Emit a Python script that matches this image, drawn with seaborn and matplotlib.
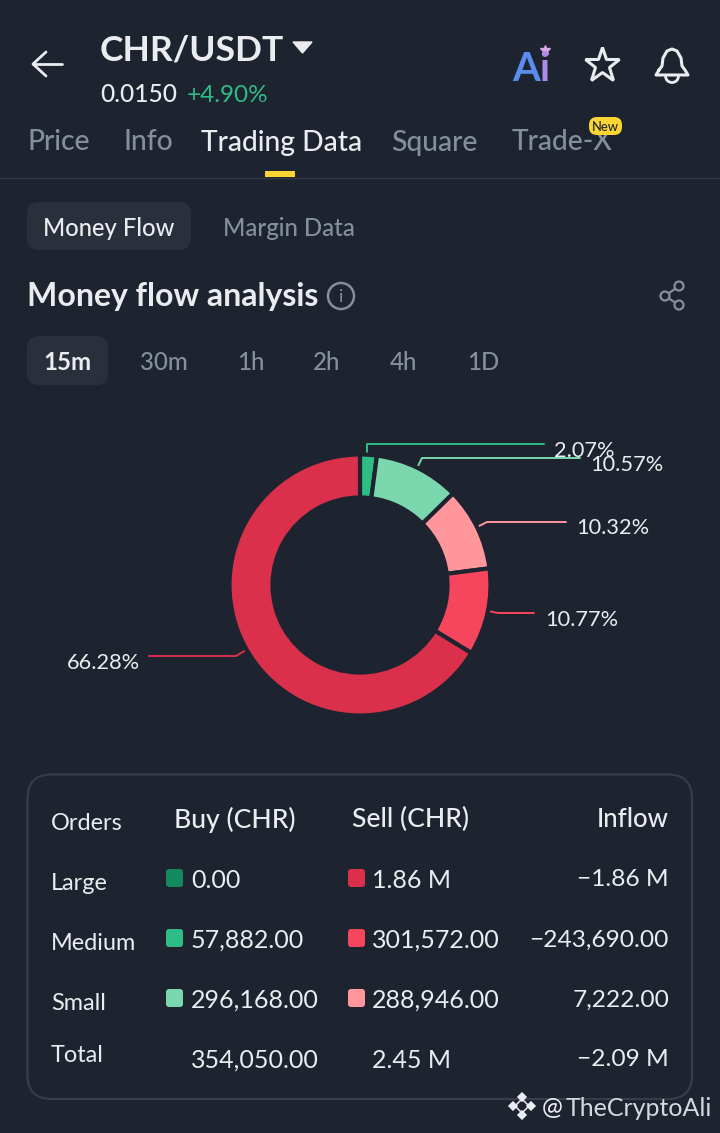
import matplotlib
matplotlib.use("Agg")
import matplotlib.pyplot as plt
from matplotlib.patches import FancyBboxPatch, Circle, Polygon, Arc
import numpy as np
import seaborn as sns

# donut values, clockwise from the top
slice_names = ["Medium buy", "Small buy", "Small sell", "Medium sell", "Large sell"]
slice_pct = [2.07, 10.57, 10.32, 10.77, 66.28]
slice_labels = ["2.07%", "10.57%", "10.32%", "10.77%", "66.28%"]
slice_colors = ["#2EBD85", "#7BD8AE", "#FF979C", "#F6465D", "#DA304C"]

# table
row_names = ["Large", "Medium", "Small", "Total"]
buy_col = ["0.00", "57,882.00", "296,168.00", "354,050.00"]
sell_col = ["1.86 M", "301,572.00", "288,946.00", "2.45 M"]
inflow_col = ["\u22121.86 M", "\u2212243,690.00", "7,222.00", "\u22122.09 M"]
buy_colors = ["#138A5E", "#2EBD85", "#7BD8AE"]
sell_colors = ["#DA304C", "#F6465D", "#FF979C"]

tabs = ["Price", "Info", "Trading Data", "Square", "Trade-X"]
periods = ["15m", "30m", "1h", "2h", "4h", "1D"]

BG = "#1E242F"
PILL = "#2A303B"
WHITE = "#EAECEF"
GREY = "#848E9C"

sns.set_theme(style="dark", rc={"figure.facecolor": BG, "axes.facecolor": BG})
plt.rcParams["font.family"] = ["Lato", "DejaVu Sans"]

fig = plt.figure(figsize=(7.2, 11.33), dpi=100)
ax = fig.add_axes([0, 0, 1, 1])
ax.set_xlim(0, 720)
ax.set_ylim(1133, 0)
ax.axis("off")


def txt(x, y, s, px, color=WHITE, ha="left", weight="normal", zorder=5):
    # size given in pixels, y is the vertical centre
    ax.text(x, y, s, fontsize=px * 0.72, color=color, ha=ha, va="center_baseline",
            fontweight=weight, zorder=zorder)


def pill(x0, y0, x1, y1, r, fc=PILL, ec="none", lw=0, zorder=1):
    ax.add_patch(FancyBboxPatch((x0 + r, y0 + r), x1 - x0 - 2 * r, y1 - y0 - 2 * r,
                                boxstyle=f"round,pad={r}", fc=fc, ec=ec, lw=lw, zorder=zorder))


# header
ax.plot([33, 62], [64, 64], color=WHITE, lw=2, solid_capstyle="round")
ax.plot([46, 33, 46], [52, 64, 76], color=WHITE, lw=2, solid_capstyle="round")
txt(100, 48, "CHR/USDT", 35.5, weight="bold")
ax.add_patch(Polygon([[293, 42], [312, 42], [302.5, 53]], closed=True, fc=WHITE, ec=WHITE, lw=1))
txt(100, 93, "0.0150", 24.5, weight="medium")
txt(187, 93, "+4.90%", 24.2, color="#2EBD85")

# Ai badge, star and bell
txt(512, 66, "A", 40, color="#5B8DF0", weight="bold")
txt(539, 66, "i", 40, color="#A98BE8", weight="bold")
ax.plot([545], [50], marker="*", ms=7, color="#D9A6E8")
ax.plot([602], [65], marker="*", ms=26, mfc="none", mec=WHITE, mew=2.2)
bell_x = [659, 662, 663, 667, 672, 677, 681, 682, 685, 688, 656, 659]
bell_y = [70, 66, 58, 51, 49, 51, 58, 66, 70, 75, 75, 70]
ax.plot(bell_x, bell_y, color=WHITE, lw=2.2, solid_joinstyle="round")
ax.add_patch(Arc((672, 76), 13, 13, theta1=0, theta2=180, color=WHITE, lw=2))

# tabs
tab_x = [27, 123, 201, 391, 512]
tab_colors = ["#848E9C", "#848E9C", WHITE, "#848E9C", "#848E9C"]
for x, s, c in zip(tab_x, tabs, tab_colors):
    txt(x, 140, s, 28.3, color=c, weight="medium")
# badge sits on top of the Trade-X label
pill(589, 117, 622, 135, 8, fc="#FCD535", zorder=5.5)
txt(605.5, 126, "New", 13, color="#1E242F", ha="center", weight="medium", zorder=6)
ax.plot([0, 720], [177.5, 177.5], color="#343A45", lw=1)
ax.add_patch(plt.Rectangle((265, 171), 30, 6, fc="#FCD535", ec="none"))

# sub tabs
pill(27, 202, 191, 250, 12)
txt(43, 226, "Money Flow", 23.8, weight="medium")
txt(223, 226, "Margin Data", 24, color=GREY, weight="medium")

# section title
txt(27, 294, "Money flow analysis", 32, weight="bold")
ax.add_patch(Circle((341, 296), 13, fc="none", ec=GREY, lw=1.8))
txt(341, 296, "i", 18, color=GREY, ha="center")
share = [(679, 286), (665, 296), (679, 305)]
ax.plot([p[0] for p in share], [p[1] for p in share], color=GREY, lw=1.6)
for p in share:
    ax.add_patch(Circle(p, 4.5, fc=BG, ec=GREY, lw=1.6, zorder=3))

# period buttons
pill(27, 336, 108, 385, 12)
period_x = [67.5, 164, 251, 327, 403, 483]
for i, (x, s) in enumerate(zip(period_x, periods)):
    txt(x, 361, s, 24, color=WHITE if i == 0 else GREY, ha="center",
        weight="bold" if i == 0 else "medium")

# donut, stroke eats half its width on each side of the ring
pie_ax = fig.add_axes([229.5 / 720, 1 - 715.5 / 1133, 261 / 720, 261 / 1133])
pie_ax.pie(slice_pct, colors=slice_colors, startangle=90, counterclock=False, radius=1,
           wedgeprops={"width": 43 / 130.5, "edgecolor": BG, "linewidth": 3})
pie_ax.set_xlim(-1, 1)
pie_ax.set_ylim(-1, 1)
pie_ax.patch.set_alpha(0)

# leader lines and labels (layout positions in pixels)
leaders = [
    ([367, 367, 544], [455, 444, 444]),
    ([417, 422, 580], [468, 458, 458]),
    ([477, 487, 566], [527, 522, 522]),
    ([488, 498, 534], [611, 613, 613]),
    ([246, 236, 149], [650, 656, 656]),
]
label_xy = [(554, 449), (590, 463), (576, 526), (545, 618), (67, 661)]
for (lx, ly), (tx, ty), s, c in zip(leaders, label_xy, slice_labels, slice_colors):
    ax.plot(lx, ly, color=c, lw=1.4, solid_joinstyle="round")
    txt(tx, ty, s, 21.8, color=WHITE)

# table card
pill(27.5, 774.5, 692, 1099, 24, fc="none", ec="#383E49", lw=1.5)
txt(51, 821, "Orders", 23.5)
txt(174, 817, "Buy (CHR)", 26.5, weight="medium")
txt(352, 817, "Sell (CHR)", 26.5, weight="medium")
txt(669, 817, "Inflow", 25.8, ha="right", weight="medium")

row_y = [878, 938, 998, 1058]
name_y = [882, 942, 1002, 1054]
for i in range(4):
    txt(51, name_y[i], row_names[i], 23.5)
    txt(191, row_y[i], buy_col[i], 25)
    txt(372, row_y[i], sell_col[i], 25)
    txt(669, row_y[i], inflow_col[i], 24.5, ha="right")
    if i < 3:
        pill(166, row_y[i] - 9, 183, row_y[i] + 9, 3, fc=buy_colors[i])
        pill(348, row_y[i] - 9, 365, row_y[i] + 9, 3, fc=sell_colors[i])

# watermark
for dx, dy, ms in [(522, 1106, 7), (522, 1097, 4), (522, 1115, 4), (513, 1106, 4), (531, 1106, 4)]:
    ax.plot([dx], [dy], marker="D", ms=ms, mfc=BG if ms == 7 else WHITE, mec=WHITE, mew=1.1, zorder=6)
txt(542, 1106, "@", 25, color=WHITE, zorder=6)
txt(566, 1106, "TheCryptoAli", 25, color="#D5D8DC", zorder=6)

fig.savefig("out.png", dpi=100, facecolor=BG)
